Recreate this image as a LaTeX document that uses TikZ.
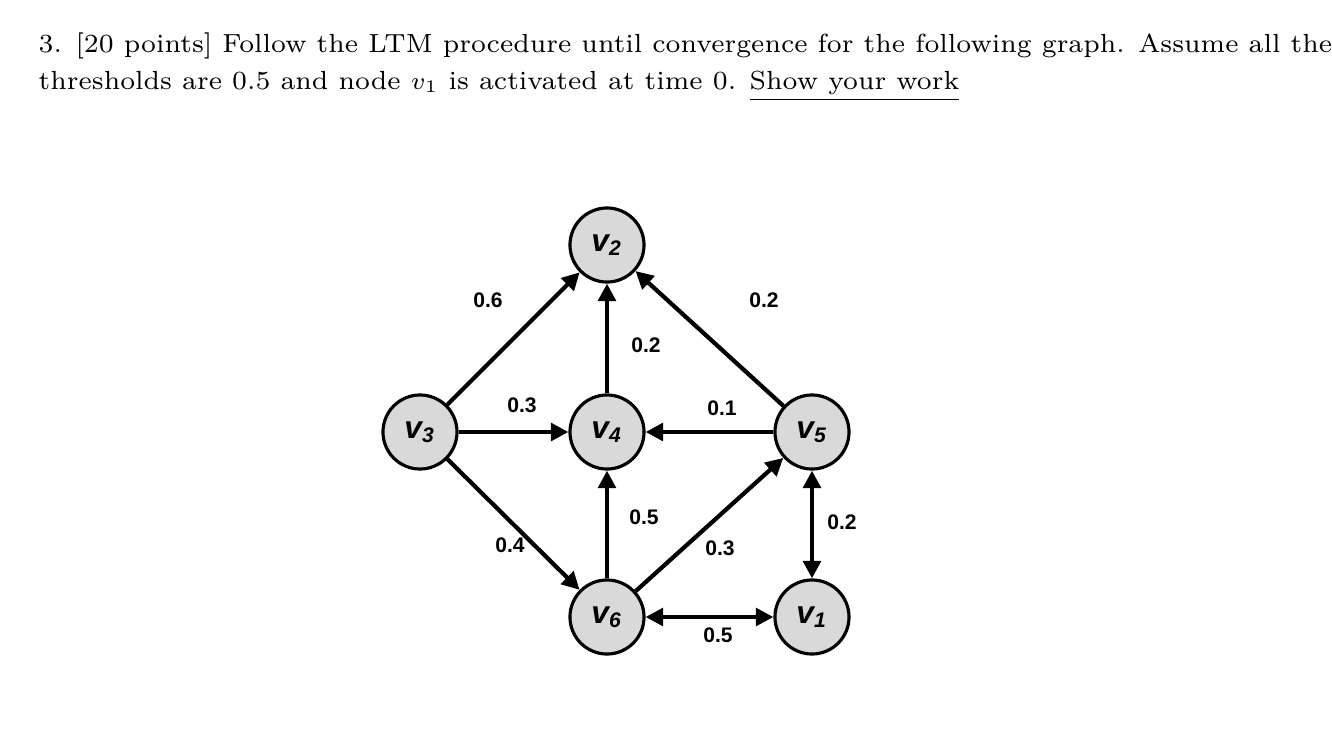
\documentclass[tikz,border=0pt]{standalone}
\usepackage{fontspec}
\newfontfamily\lbl{Liberation Sans}
\usetikzlibrary{arrows.meta}
\begin{document}
\begin{tikzpicture}[x=0.01cm,y=-0.01cm,
  vtx/.style={circle,draw=black,line width=0.9pt,fill=gray!30,minimum size=0.74cm,inner sep=0,font=\lbl\bfseries\itshape\fontsize{9}{10}\selectfont},
  edge/.style={line width=1.2pt,-{Triangle[length=5pt,width=5pt]}},
  both/.style={line width=1.2pt,{Triangle[length=5pt,width=5pt]}-{Triangle[length=5pt,width=5pt]}},
  wt/.style={font=\lbl\bfseries\fontsize{6}{7}\selectfont,inner sep=0}]
\useasboundingbox[fill=white] (0,0) rectangle (1332,748);
\node[anchor=base west,inner sep=0,font=\fontsize{7.45}{10}\selectfont] (t1) at (38,52) {3. [20 points] Follow the LTM procedure until convergence for the following graph. Assume all the};
\node[anchor=base west,inner sep=0,font=\fontsize{7.45}{10}\selectfont] (t2) at (38,89) {thresholds are 0.5 and node $v_1$ is activated at time 0. \underline{Show your work}};
\node[vtx] (v2) at (607,245) {v\textsubscript{2}};
\node[vtx] (v3) at (420,432) {v\textsubscript{3}};
\node[vtx] (v4) at (607,432) {v\textsubscript{4}};
\node[vtx] (v5) at (812,432) {v\textsubscript{5}};
\node[vtx] (v6) at (607,617) {v\textsubscript{6}};
\node[vtx] (v1) at (812,617) {v\textsubscript{1}};
\draw[edge] (v3) -- (v2);
\draw[edge] (v5) -- (v2);
\draw[edge] (v4) -- (v2);
\draw[edge] (v3) -- (v4);
\draw[edge] (v5) -- (v4);
\draw[edge] (v3) -- (v6);
\draw[edge] (v6) -- (v4);
\draw[edge] (v6) -- (v5);
\draw[both] (v5) -- (v1);
\draw[both] (v6) -- (v1);
\node[wt] (w1) at (488,300) {0.6};
\node[wt] (w2) at (764,300) {0.2};
\node[wt] (w3) at (646,345) {0.2};
\node[wt] (w4) at (522,405) {0.3};
\node[wt] (w5) at (722,408) {0.1};
\node[wt] (w6) at (510,545) {0.4};
\node[wt] (w7) at (644,517) {0.5};
\node[wt] (w8) at (720,548) {0.3};
\node[wt] (w9) at (842,522) {0.2};
\node[wt] (w10) at (718,635) {0.5};
\end{tikzpicture}
\end{document}
